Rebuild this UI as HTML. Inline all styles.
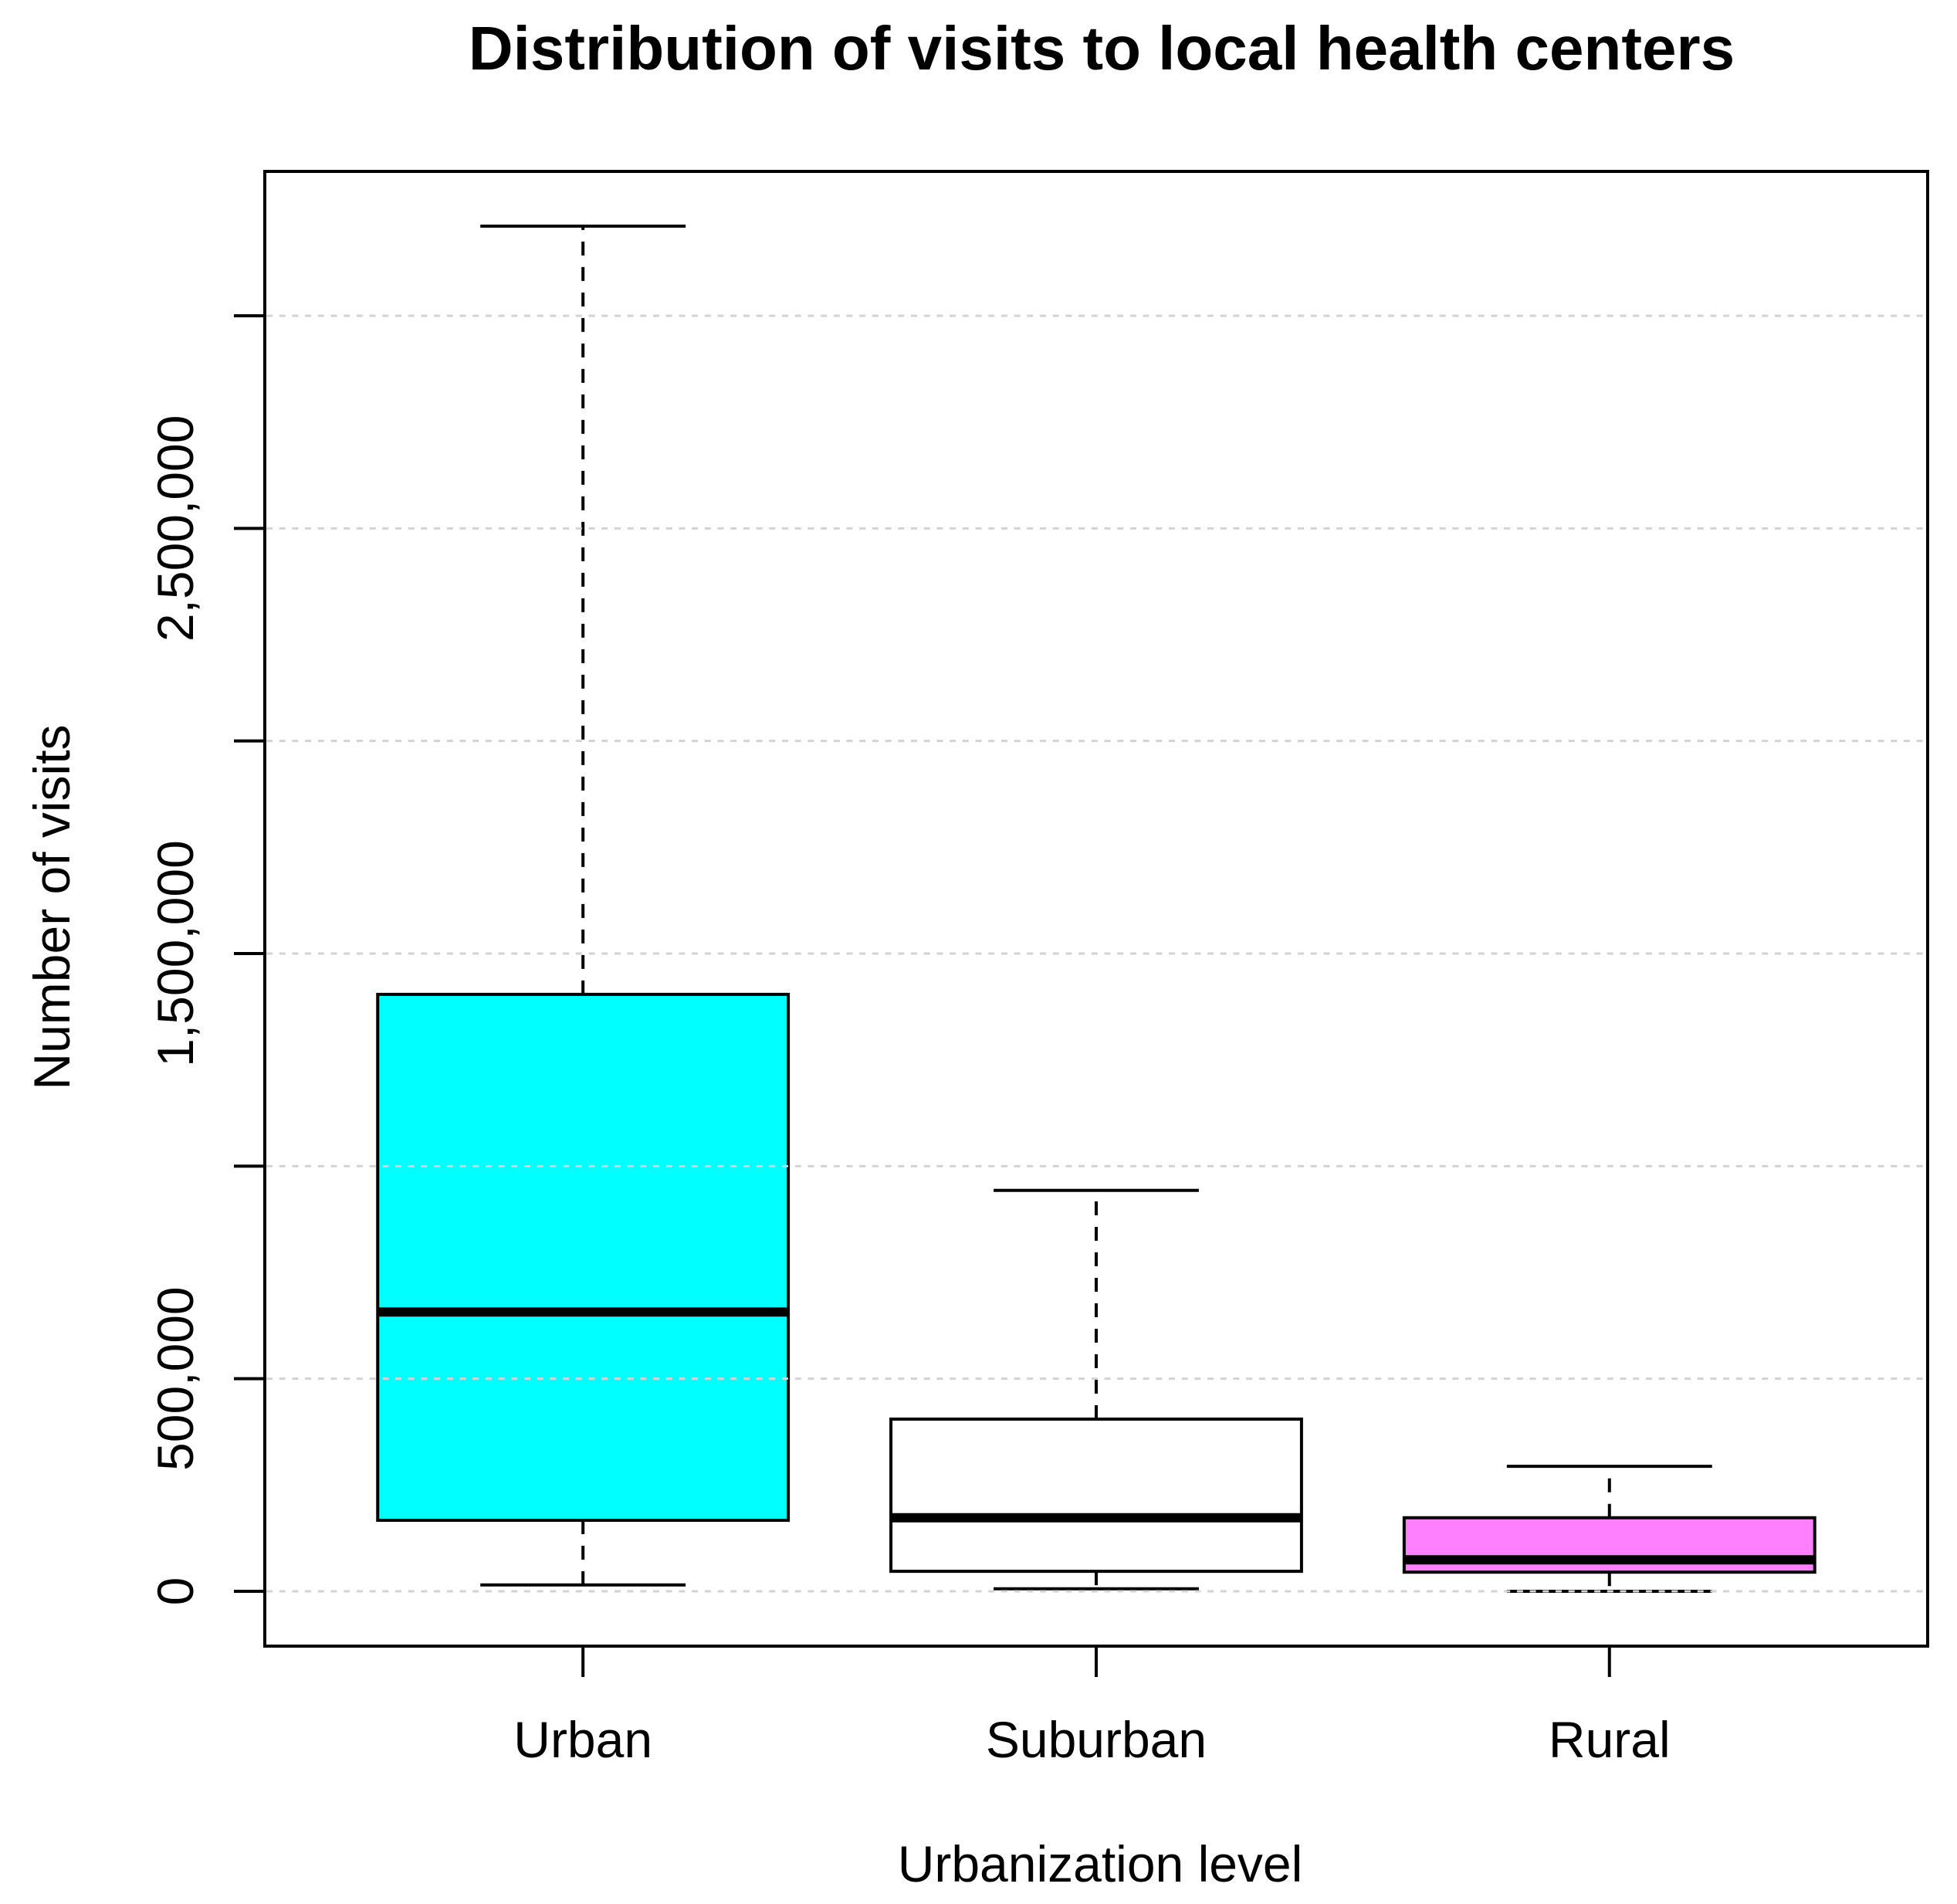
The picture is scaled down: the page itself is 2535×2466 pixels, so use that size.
<!DOCTYPE html>
<html><head><meta charset="utf-8"><style>
html,body{margin:0;padding:0;background:#fff;}
svg{display:block;font-family:"Liberation Sans",Arial,sans-serif;}
</style></head><body>
<svg id="chart" width="2535" height="2466" viewBox="0 0 2535 2466" xmlns="http://www.w3.org/2000/svg">
<rect width="2535" height="2466" fill="#fff"/>
<text x="1427" y="90" font-size="80" font-weight="bold" text-anchor="middle">Distribution of visits to local health centers</text>
<text transform="translate(90,1175) rotate(-90)" font-size="66" text-anchor="middle">Number of visits</text>
<text x="1425" y="2437" font-size="66" text-anchor="middle">Urbanization level</text>
<g id="boxes"></g>
<g id="grid"></g>
<g id="axes"></g>
<rect x="343" y="222" width="2154" height="1910" fill="none" stroke="#000" stroke-width="4"/>
</svg>
<script>
const categories = ["Urban", "Suburban", "Rural"];
const fills = ["#00ffff", "#ffffff", "#ff80ff"];
const whiskerLow = [15000, 6000, 0];
const q1 = [167000, 47000, 45000];
const medians = [657000, 173000, 74000];
const q3 = [1404000, 405000, 173000];
const whiskerHigh = [3211000, 943000, 294000];
const yTicks = [0, 500000, 1000000, 1500000, 2000000, 2500000, 3000000];
const yTickLabels = ["0", "500,000", "", "1,500,000", "", "2,500,000", ""];

const NS = "http://www.w3.org/2000/svg";
function yScale(v){ return 2061 - v / 500000 * 275.33; }
function xScale(i){ return 343 + (i + 1 - 0.5 + 0.12) * 664.8; }
function mk(tag, attrs, parent){
  const e = document.createElementNS(NS, tag);
  for (const k in attrs) e.setAttribute(k, attrs[k]);
  parent.appendChild(e);
  return e;
}
const boxes = document.getElementById("boxes");
const grid = document.getElementById("grid");
const axes = document.getElementById("axes");
const unit = 664.8;

categories.forEach((c, i) => {
  const cx = xScale(i);
  const g = mk("g", {}, boxes);
  
  
  const dash = {stroke: "#000", "stroke-width": 4, "stroke-dasharray": "18 15"};
  const w1 = mk("line", Object.assign({x1: cx, x2: cx, y1: yScale(q3[i]), y2: yScale(whiskerHigh[i])}, dash), g);
  
  
  const w2 = mk("line", Object.assign({x1: cx, x2: cx, y1: yScale(q1[i]), y2: yScale(whiskerLow[i])}, dash), g);
  
  
  const capW = 0.2 * unit;
  const c1 = mk("line", {x1: cx - capW, x2: cx + capW, y1: yScale(whiskerHigh[i]), y2: yScale(whiskerHigh[i]), stroke: "#000", "stroke-width": 4}, g);
  
  
  const c2 = mk("line", {x1: cx - capW, x2: cx + capW, y1: yScale(whiskerLow[i]), y2: yScale(whiskerLow[i]), stroke: "#000", "stroke-width": 4}, g);
  
  
  const bw = 0.4 * unit;
  const r = mk("rect", {x: cx - bw, y: yScale(q3[i]), width: 2 * bw, height: yScale(q1[i]) - yScale(q3[i]), fill: fills[i], stroke: "#000", "stroke-width": 4}, g);
  
  
  const m = mk("line", {x1: cx - bw, x2: cx + bw, y1: yScale(medians[i]), y2: yScale(medians[i]), stroke: "#000", "stroke-width": 12}, g);
  
  
  const t = mk("line", {x1: cx, x2: cx, y1: 2132, y2: 2172, stroke: "#000", "stroke-width": 4}, axes);
  
  
  const lb = mk("text", {x: cx, y: 2276, "font-size": 66, "text-anchor": "middle"}, axes);
  lb.textContent = c;
  
  
});

yTicks.forEach((v, i) => {
  const y = yScale(v);
  const gl = mk("line", {x1: 345, x2: 2495, y1: y, y2: y, stroke: "#d3d3d3", "stroke-width": 3, "stroke-dasharray": "8 8.7"}, grid);
  
  
  const tk = mk("line", {x1: 303, x2: 343, y1: y, y2: y, stroke: "#000", "stroke-width": 4}, axes);
  
  
  if (yTickLabels[i]) {
    const tl = mk("text", {transform: "translate(250," + y + ") rotate(-90)", "font-size": 66, "text-anchor": "middle"}, axes);
    tl.textContent = yTickLabels[i];
    
    
  }
});
</script>
</body></html>
